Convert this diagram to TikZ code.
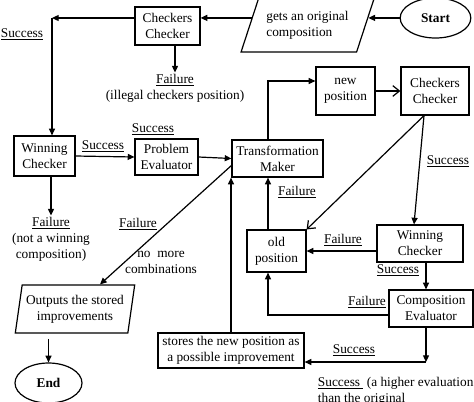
\documentclass[tikz,border=0pt]{standalone}
\usepackage{fontspec}
\setmainfont{Liberation Serif}
\usetikzlibrary{shapes.geometric,arrows.meta,calc}

\begin{document}
\begin{tikzpicture}[x=0.75pt, y=-0.75pt, line width=0.9pt,
    font=\fontsize{10}{12}\selectfont,
    box/.style={draw, rectangle, align=center, inner sep=1pt},
    para/.style={draw, trapezium, trapezium stretches=true, align=center, inner sep=1pt},
    term/.style={draw, ellipse, inner sep=1pt, font=\fontsize{10}{12}\selectfont\bfseries},
    lbl/.style={align=center, inner sep=1pt},
    arr/.style={-{Triangle[length=5pt,width=4.5pt]}},
    openarr/.style={-{Straight Barb[length=5pt,width=8pt]}}]
    \useasboundingbox (0,0) rectangle (474,401);

    % top row
    \node[term, minimum width=53pt, minimum height=30pt] (start) at (435.5,18) {Start};
    \node[para, align=left, trapezium left angle=64, trapezium right angle=116,
        minimum width=99.75pt, minimum height=39.75pt] (orig) at (307.5,25.5) {gets an original\\composition};
    \node[box, minimum width=48.75pt, minimum height=28.5pt] (chk1) at (167.5,26) {Checkers\\Checker};
    \node[lbl] (fail1) at (175,88.5) {\underline{Failure}\\(illegal checkers position)};

    % left column
    \node[box, minimum width=45.75pt, minimum height=30pt] (win1) at (44.5,156) {Winning\\Checker};
    \node[lbl] (fail2) at (51,239.5) {\underline{Failure}\\(not a winning\\composition)};
    \node[para, trapezium left angle=78, trapezium right angle=102,
        minimum width=90pt, minimum height=36pt] (outp) at (75,309) {Outputs the stored\\improvements};
    \node[term, minimum width=50.25pt, minimum height=30pt] (end) at (48.5,383) {End};

    % middle row
    \node[box, minimum width=47.25pt, minimum height=27pt] (prob) at (166.5,157) {Problem\\Evaluator};
    \node[box, minimum width=68.25pt, minimum height=27.75pt] (trans) at (277.5,158.5) {Transformation\\Maker};
    \node[box, minimum width=44.25pt, minimum height=36pt] (newp) at (345.5,91) {new\\position};
    \node[box, minimum width=51pt, minimum height=36pt] (chk2) at (435,91) {Checkers\\Checker};
    \node[box, minimum width=64.5pt, minimum height=27.75pt] (win2) at (420,243.5) {Winning\\Checker};
    \node[box, minimum width=44.25pt, minimum height=31.5pt] (oldp) at (276.5,251) {old\\position};
    \node[box, minimum width=63pt, minimum height=27.75pt] (comp) at (431,308.5) {Composition\\Evaluator};
    \node[box, minimum width=109.5pt, minimum height=26.25pt] (store) at (231,350.5) {stores the new position as\\a possible improvement};

    % labels
    \node[lbl] (succ1) at (22,34) {\underline{Success}};
    \node[lbl] (succ2) at (103,146) {\underline{Success}};
    \node[lbl] (succ3) at (153,129) {\underline{Success}};
    \node[lbl] (succ4) at (448,161) {\underline{Success}};
    \node[lbl] (succ5) at (398,270) {\underline{Success}};
    \node[lbl] (succ6) at (354,350) {\underline{Success}};
    \node[lbl] (fail3) at (138,224) {\underline{Failure}};
    \node[lbl] (fail4) at (297,192) {\underline{Failure}};
    \node[lbl] (fail5) at (343,240) {\underline{Failure}};
    \node[lbl] (fail6) at (367,302) {\underline{Failure}};
    \node[lbl] (nomore) at (161,262) {no\ \ more\\combinations};
    \node[lbl, align=left, anchor=north west] (higher) at (316,375) {\underline{Success\ } (a higher evaluation\\than the original};

    % helper points
    \coordinate (pr) at ($(orig.top right corner)!0.36!(orig.bottom right corner)$);
    \coordinate (pl) at ($(orig.top left corner)!0.36!(orig.bottom left corner)$);
    \coordinate (c1) at (52,18);
    \coordinate (xm) at (268,81);
    \coordinate (xr) at (426,315);
    \coordinate (cb) at ($(chk2.south)+(-11,0)$);
    \coordinate (cs) at (426,362);

    % connectors
    \draw[arr] (start.west |- pr) -- (pr);
    \draw[arr] (pl) -- (pl -| chk1.east);
    \draw[arr] (chk1.west |- c1) -- (c1);
    \draw[arr] (c1) -- (c1 |- win1.north);
    \draw[arr] (fail1.north |- chk1.south) -- (fail1.north);
    \draw[arr] (fail2.north |- win1.south) -- (fail2.north);
    \draw[arr] (win1.east) -- (prob.west);
    \draw[arr] (prob.east) -- (trans.west);
    \draw[arr] ($(trans.west)+(0,7)$) -- ($(outp.north)+(25,0)$);
    \draw[arr] (xm |- trans.north) -- (xm) -- (xm -| newp.west);
    \draw[openarr] (newp.east) -- (chk2.west);
    \draw[arr] (cb) -- ($(win2.north)+(-6,0)$);
    \draw[openarr] (cb) -- (oldp.north east);
    \draw[arr] (oldp.east -| win2.west) -- (oldp.east);
    \draw[arr] (xm |- oldp.north) -- (xm |- trans.south);
    \draw[arr] (xr |- win2.south) -- (xr |- comp.north);
    \draw[arr] (comp.west |- xr) -| (xm |- oldp.south);
    \draw[arr] (cs |- comp.south) -- (cs);
    \draw[arr] (cs) -- (cs -| store.east);
    \draw[arr] (store.north) -- (store.north |- trans.south);
    \draw[arr, shorten <=4pt] (end.north |- outp.south) -- (end.north);
\end{tikzpicture}
\end{document}
